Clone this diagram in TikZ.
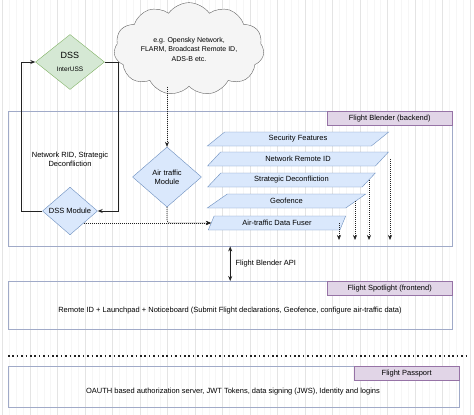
\documentclass[tikz,border=0pt]{standalone}
\usepackage{fontspec}
\setmainfont{Liberation Sans}
\usetikzlibrary{shapes.geometric,shapes.symbols,arrows.meta,positioning,calc}

\definecolor{gridminor}{RGB}{246,246,246}
\definecolor{gridmajor}{RGB}{228,228,228}
\definecolor{greenfill}{HTML}{D5E8D4}
\definecolor{greenline}{HTML}{82B366}
\definecolor{bluefill}{HTML}{DAE8FC}
\definecolor{blueline}{HTML}{6C8EBF}
\definecolor{purplefill}{HTML}{E1D5E7}
\definecolor{purpleline}{HTML}{9673A6}
\definecolor{boxline}{RGB}{160,170,200}
\definecolor{cloudfill}{HTML}{F5F5F5}
\definecolor{cloudline}{HTML}{666666}
\definecolor{wire}{HTML}{222222}

\tikzset{
  txt/.style={font=\fontsize{7.5}{9}\selectfont, align=center, inner sep=0pt},
  kite/.style={diamond, draw=blueline, fill=bluefill, inner sep=0pt, txt},
  slab/.style={trapezium, trapezium left angle=45, trapezium right angle=135,
    trapezium stretches=true, draw=blueline, fill=bluefill, inner sep=0pt,
    minimum height=14, txt},
  panel/.style={draw=boxline, anchor=north west, inner sep=0pt},
  tagbox/.style={draw=purpleline, fill=purplefill, anchor=north east,
    minimum height=14, inner sep=0pt, txt},
  flow/.style={draw=wire, line width=0.8pt, -{Stealth[length=5pt,width=4pt]}},
  dotflow/.style={draw=wire, line width=0.6pt, dash pattern=on 0.8pt off 1.2pt,
    -{Stealth[length=5pt,width=4pt]}},
}

\begin{document}
\begin{tikzpicture}[x=1pt,y=-1pt]
  \useasboundingbox (0,0) rectangle (474,415);
  \fill[white] (0,0) rectangle (474,415);
  % background grid
  \begin{scope}
    \clip (0,0) rectangle (474,415);
    \begin{scope}[shift={(2.5,14.5)}]
      \draw[gridminor, line width=0.4pt, step=6.875] (-30,-30) grid (480,410);
      \draw[gridmajor, line width=0.5pt, step=27.5] (-30,-30) grid (480,410);
    \end{scope}
  \end{scope}

  % panels
  \node[panel, minimum width=444, minimum height=135] (backend) at (8,111) {};
  \node[tagbox, minimum width=125] (backendtag) at (backend.north east) {Flight Blender (backend)};
  \node[panel, minimum width=444, minimum height=48] (frontend) at (8,281) {};
  \node[tagbox, minimum width=125] (frontendtag) at (frontend.north east) {Flight Spotlight (frontend)};
  \node[panel, minimum width=451, minimum height=41] (passport) at (8,366) {};
  \node[tagbox, minimum width=105] (passporttag) at (passport.north east) {Flight Passport};

  % external services
  \node[diamond, draw=greenline, fill=greenfill, inner sep=0pt, minimum width=69,
    minimum height=55, align=center] (dss) at (70,62)
    {{\fontsize{9}{10}\selectfont DSS}\\[1pt]{\fontsize{6.5}{7}\selectfont InterUSS}};
  \node[cloud, cloud puffs=11, cloud puff arc=110, aspect=1.8, draw=cloudline,
    fill=cloudfill, minimum width=150, minimum height=87, inner sep=0pt,
    font=\fontsize{7}{9.5}\selectfont, align=center] (sources) at (189,49)
    {e.g. Opensky Network,\\FLARM, Broadcast Remote ID,\\ADS-B etc.};

  % modules
  \node[kite, minimum width=55, minimum height=44] (dssmod) at (70,211) {DSS Module};
  \node[kite, minimum width=69, minimum height=60] (atm) at (167,177) {Air traffic\\Module};
  \node[txt] (loopnote) at (70,159) {Network RID, Strategic\\Deconfliction};

  \node[slab, minimum width=182] (security) at (298,139) {Security Features};
  \node[slab, minimum width=182] (nrid) at (298,159) {Network Remote ID};
  \node[slab, minimum width=169] (strat) at (291.5,180) {Strategic Deconfliction};
  \node[slab, minimum width=159] (geo) at (286.5,201) {Geofence};
  \node[slab, minimum width=138, trapezium left angle=60, trapezium right angle=120]
    (fuser) at (277,223) {Air-traffic Data Fuser};

  % connectors
  \draw[flow] (dssmod.west) -- ++(-21,0) |- (dss.west);
  \draw[flow] (dss.east) -- ++(14,0) |- (dssmod.east);
  \draw[dotflow] (atm.north |- sources.south) -- (atm.north);
  \draw[dotflow] (dssmod.south east) -- (dssmod.south east -| fuser.west);
  \draw[dotflow, rounded corners=3] (atm.south) |- (fuser.west);

  \coordinate (endnrid) at (390,240);
  \coordinate (endstrat) at (369,240);
  \coordinate (endgeo) at (355,240);
  \coordinate (endfuser) at (339,240);
  \foreach \n in {nrid,strat,geo,fuser}
    \draw[dotflow] (\n.east -| end\n) -- (end\n);

  \draw[draw=wire, line width=0.8pt, {Stealth[length=5pt,width=4pt]}-{Stealth[length=5pt,width=4pt]}]
    (backend.south) -- (frontend.north)
    node[midway, right=5pt, txt] (apilabel) {Flight Blender API};

  % panel texts
  \node[txt] (frontendtext) at (230,311) {Remote ID + Launchpad + Noticeboard (Submit Flight declarations, Geofence, configure air-traffic data)};
  \node[txt] (passporttext) at (233,392) {OAUTH based authorization server, JWT Tokens, data signing (JWS), Identity and logins};

  % separator
  \coordinate (sepleft) at (8,356);
  \coordinate (sepright) at (466,356);
  \draw[wire, line width=1.6pt, dash pattern=on 1.6pt off 2.8pt] (sepleft) -- (sepright);
\end{tikzpicture}
\end{document}
